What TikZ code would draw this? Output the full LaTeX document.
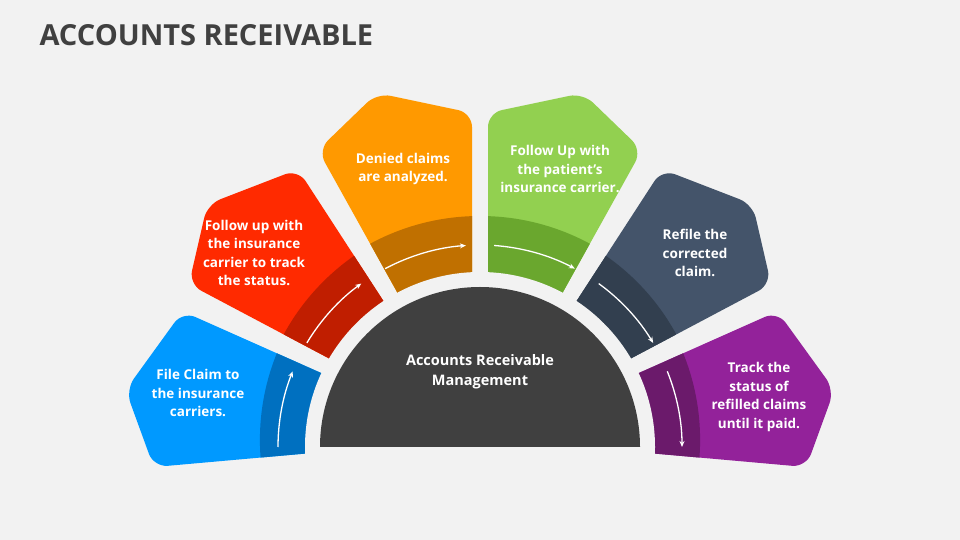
\documentclass[tikz,border=0pt]{standalone}
\usepackage{fontspec}
\setmainfont{Open Sans}
\usetikzlibrary{arrows.meta}
\definecolor{bg}{HTML}{F2F2F2}
\definecolor{dk}{HTML}{404040}
\definecolor{cBlue}{HTML}{0099FF}\definecolor{dBlue}{HTML}{0070C0}
\definecolor{cRed}{HTML}{FF2A00}\definecolor{dRed}{HTML}{C01E00}
\definecolor{cOra}{HTML}{FF9900}\definecolor{dOra}{HTML}{C07000}
\definecolor{cGre}{HTML}{92D050}\definecolor{dGre}{HTML}{6AA72E}
\definecolor{cSla}{HTML}{44546A}\definecolor{dSla}{HTML}{323F4F}
\definecolor{cPur}{HTML}{93229A}\definecolor{dPur}{HTML}{6B1A6B}
\tikzset{
  lbl/.style={text=white,font=\fontsize{13.5}{18.5}\selectfont\bfseries,align=center},
  arr/.style={white,line width=1.3pt,-{Stealth[length=6pt,width=5pt]}},
}
\newcommand{\petal}[4]{% rotation, mirror (1/-1), fill, band
  \begin{scope}[shift={(480,105)},rotate=#1,xscale=#2]
    \path[fill=#3,rounded corners=14pt] (-8,20) -- (-8,322) -- (-103,342) -- (-162,285) -- (-83,143) -- (-30,48) -- cycle;
    \begin{scope}
      \clip[rounded corners=14pt] (-8,20) -- (-8,322) -- (-103,342) -- (-162,285) -- (-83,143) -- (-30,48) -- cycle;
      \fill[#4] (0,-12) circle (231);
    \end{scope}
  \end{scope}}
\begin{document}
\begin{tikzpicture}[x=1pt,y=1pt]
\fill[bg] (0,0) rectangle (960,540);
\useasboundingbox (0,0) rectangle (960,540);
\node[anchor=west,text=dk,font=\fontsize{29}{32}\selectfont\bfseries] (title) at (36,505) {ACCOUNTS RECEIVABLE};
\coordinate (C) at (480,93);
\petal{66}{1}{cBlue}{dBlue}
\petal{33}{1}{cRed}{dRed}
\petal{0}{1}{cOra}{dOra}
\petal{0}{-1}{cGre}{dGre}
\petal{-33}{-1}{cSla}{dSla}
\petal{-66}{-1}{cPur}{dPur}
\fill[bg] (C) circle (175);
\fill[dk] (320,93) arc (180:0:160) -- cycle;
\node[lbl,font=\fontsize{14.5}{20}\selectfont\bfseries] (center) at (480,168) {Accounts Receivable\\Management};
\draw[arr] ([shift={(C)}]180:202) arc (180:158:202);
\draw[arr] ([shift={(C)}]149:202) arc (149:126:202);
\draw[arr] ([shift={(C)}]118:202) arc (118:94:202);
\draw[arr] ([shift={(C)}]86:202) arc (86:62:202);
\draw[arr] ([shift={(C)}]54:202) arc (54:31:202);
\draw[arr] ([shift={(C)}]22:202) arc (22:0:202);
\node[lbl] (t1) at (198,147) {File Claim to\\the insurance\\carriers.};
\node[lbl] (t2) at (254,287) {Follow up with\\the insurance\\carrier to track\\the status.};
\node[lbl] (t3) at (403,371) {Denied claims\\are analyzed.};
\node[lbl] (t4) at (560,371) {Follow Up with\\the patient's\\insurance carrier.};
\node[lbl] (t5) at (695,287) {Refile the\\corrected\\claim.};
\node[lbl] (t6) at (759,143) {Track the\\status of\\refilled claims\\until it paid.};
\end{tikzpicture}
\end{document}
